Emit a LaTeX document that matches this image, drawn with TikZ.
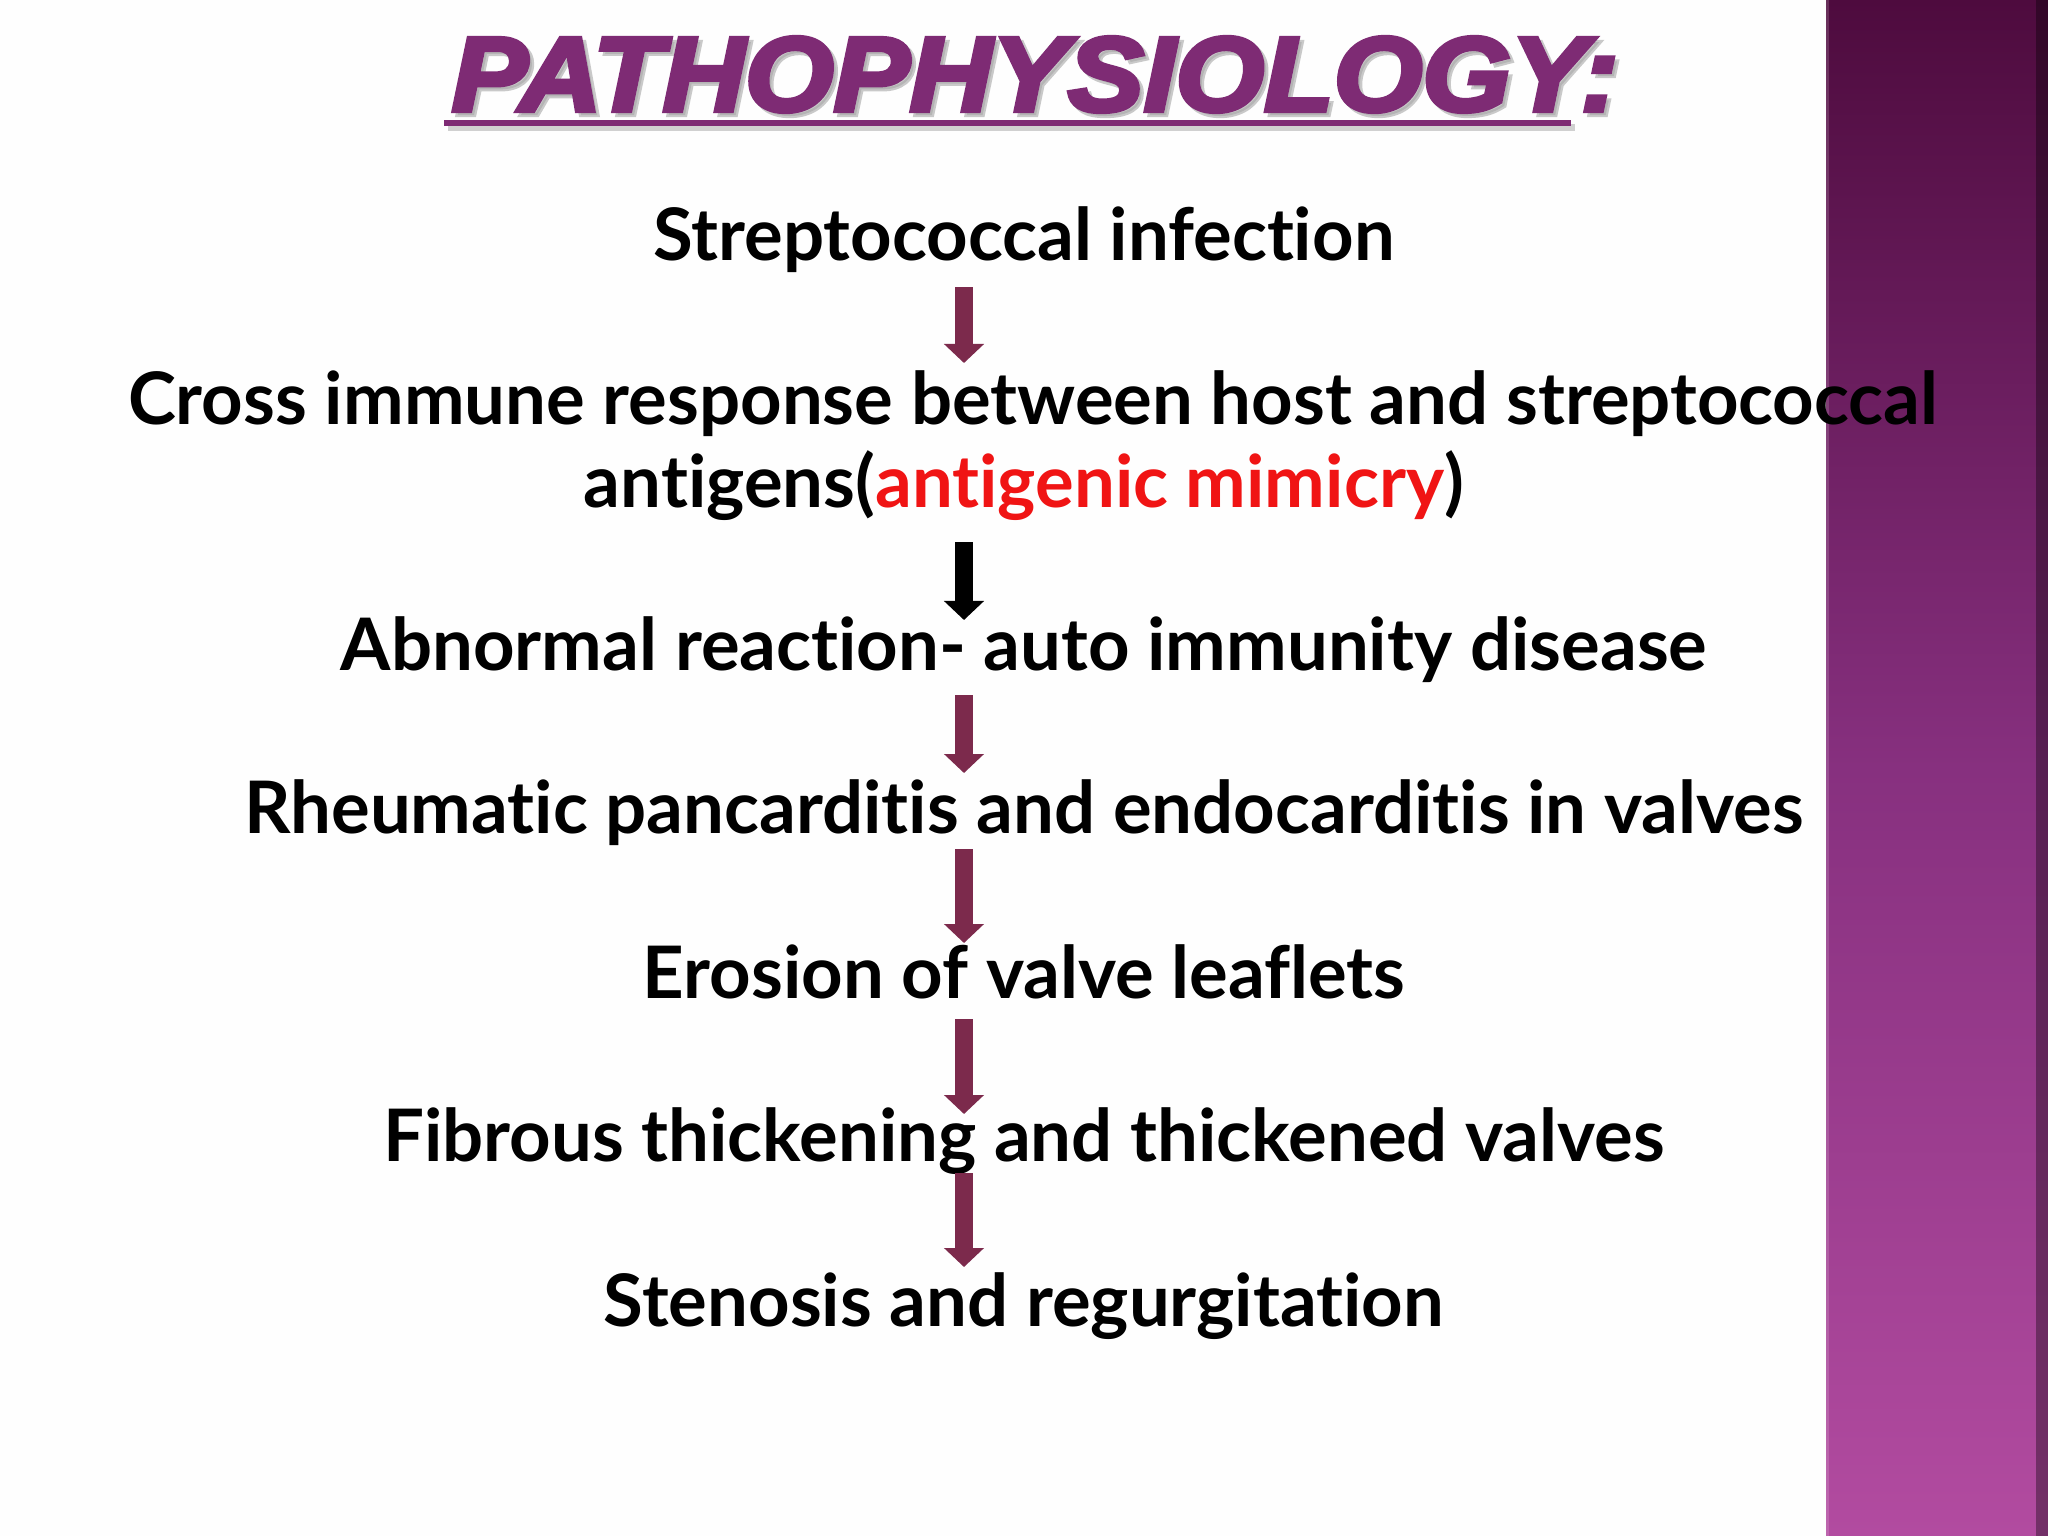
\documentclass[tikz,border=0pt]{standalone}
\usepackage{fontspec}
\usetikzlibrary{arrows.meta}
\setmainfont[Ligatures={NoCommon,NoDiscretionary}]{Lato}
\newfontfamily\titlefont[BoldItalicFeatures={FakeBold=4}]{Liberation Sans}
\definecolor{titlepurple}{HTML}{7E2B74}
\definecolor{arrowmaroon}{HTML}{7C2A4C}
\definecolor{bartop}{HTML}{4E0B3E}
\definecolor{barmid}{HTML}{87307F}
\definecolor{barbot}{HTML}{B24BA0}
\definecolor{mimicred}{HTML}{F01414}
\tikzset{
  body/.style={anchor=base, font=\fontsize{20.6}{24}\selectfont\bfseries, text=black, inner sep=0pt, align=center},
  flowarrow/.style={line width=0.18cm, color=arrowmaroon, -{Triangle[width=0.39cm,length=0.19cm]}, shorten >=0pt},
  blackarrow/.style={flowarrow, color=black}
}
\begin{document}
\begin{tikzpicture}[x=0.01cm,y=-0.01cm]
\useasboundingbox (0,0) rectangle (2048,1536);
\fill[white!99!gray] (0,0) rectangle (2048,1536);
% right bar
\shade[top color=bartop, bottom color=barbot, middle color=barmid] (1826,0) rectangle (2048,1536);
\shade[left color=barmid!0!black, right color=black, opacity=0.35] (2036,0) rectangle (2048,1536);
\fill[white, opacity=0.15] (1826,0) rectangle (1829,1536);
% title
\node[anchor=base west, inner sep=0pt, text=black!35, opacity=0.6] (titleshadow) at (455,115)
  {\resizebox{11.66cm}{0.74cm}{\titlefont\bfseries\itshape PATHOPHYSIOLOGY:}};
\node[anchor=base west, inner sep=0pt, text=titlepurple] (title) at (451,111)
  {\resizebox{11.66cm}{0.74cm}{\titlefont\bfseries\itshape PATHOPHYSIOLOGY:}};
\fill[black!30, opacity=0.6] (448,124) rectangle (1575,131);
\fill[titlepurple] (444,120) rectangle (1571,126);
% text
\node[body] (l1) at (1024,260) {Streptococcal infection};
\node[body] (l2) at (1033,424) {Cross immune response between host and streptococcal};
\node[body] (l3) at (1024,507) {antigens(\textcolor{mimicred}{antigenic mimicry})};
\node[body] (l4) at (1024,670) {Abnormal reaction- auto immunity disease};
\node[body] (l5) at (1024,833) {Rheumatic pancarditis and endocarditis in valves};
\node[body] (l6) at (1024,998) {Erosion of valve leaflets};
\node[body] (l7) at (1024,1161) {Fibrous thickening and thickened valves};
\node[body] (l8) at (1024,1326) {Stenosis and regurgitation};
% arrows
\coordinate (a1s) at (964,287); \coordinate (a1e) at (964,363);
\coordinate (a2s) at (964,542); \coordinate (a2e) at (964,620);
\coordinate (a3s) at (964,695); \coordinate (a3e) at (964,773);
\coordinate (a4s) at (964,849); \coordinate (a4e) at (964,943);
\coordinate (a5s) at (964,1019); \coordinate (a5e) at (964,1114);
\coordinate (a6s) at (964,1173); \coordinate (a6e) at (964,1267);
\draw[flowarrow] (a1s) -- (a1e);
\draw[blackarrow] (a2s) -- (a2e);
\draw[flowarrow] (a3s) -- (a3e);
\draw[flowarrow] (a4s) -- (a4e);
\draw[flowarrow] (a5s) -- (a5e);
\draw[flowarrow] (a6s) -- (a6e);
\end{tikzpicture}
\end{document}
